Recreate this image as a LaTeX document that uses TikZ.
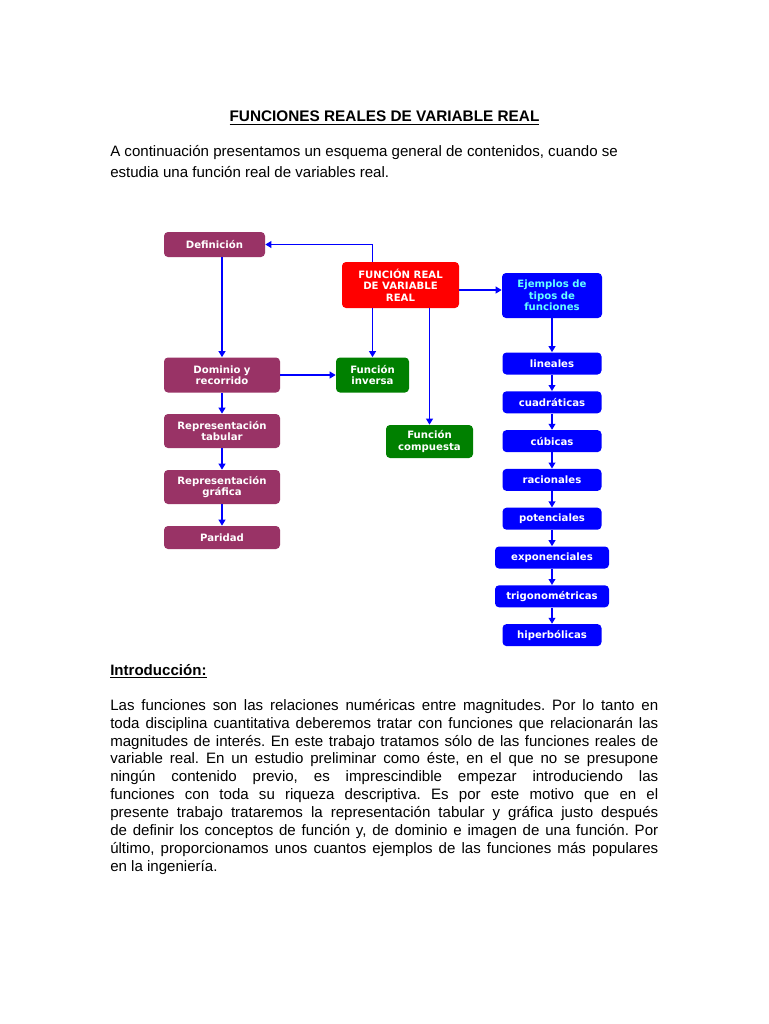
\documentclass[tikz,border=0pt]{standalone}
\usepackage{fontspec}
\setmainfont{Liberation Sans}
\newfontfamily\boxfont{DejaVu Sans}
\usepackage{tikz}
\usetikzlibrary{arrows.meta}
\definecolor{plum}{HTML}{993366}
\definecolor{fred}{HTML}{FF0000}
\definecolor{fgreen}{HTML}{008000}
\definecolor{fblue}{HTML}{0000FF}
\definecolor{fcyan}{HTML}{66FFFF}
\frenchspacing

\begin{document}
\begin{tikzpicture}[x=0.75pt,y=-0.75pt,
  box/.style={rounded corners=3pt, inner sep=0pt, align=center, text=white,
    font=\boxfont\bfseries\fontsize{7.6}{8.6}\selectfont},
  link/.style={draw=fblue, line width=1.2pt, -{Triangle[length=4.5pt,width=5pt]}}]
  \useasboundingbox[fill=white] (0,0) rectangle (768,1024);
  % text of the page
  \node[font=\bfseries\fontsize{11.5}{13}\selectfont] (title) at (384.5,118) {\underline{FUNCIONES REALES DE VARIABLE REAL}};
  \node[anchor=north west, align=left, inner sep=0pt, font=\fontsize{11.3}{15.8}\selectfont] (intro) at (110,145)
    {A continuación presentamos un esquema general de contenidos, cuando se\\estudia una función real de variables real.};
  \node[anchor=west, inner sep=0pt, font=\bfseries\fontsize{11.3}{13}\selectfont] (introd) at (110,671) {\underline{Introducción:}};
  \node[anchor=north west, text width=411pt, align=justify, inner sep=0pt, font=\fontsize{11.3}{13.4}\selectfont] (body) at (110,699)
    {Las funciones son las relaciones numéricas entre magnitudes. Por lo tanto en\linebreak
     toda disciplina cuantitativa deberemos tratar con funciones que relacionarán las\linebreak
     magnitudes de interés. En este trabajo tratamos sólo de las funciones reales de\linebreak
     variable real. En un estudio preliminar como éste, en el que no se presupone\linebreak
     ningún contenido previo, es imprescindible empezar introduciendo las\linebreak
     funciones con toda su riqueza descriptiva. Es por este motivo que en el\linebreak
     presente trabajo trataremos la representación tabular y gráfica justo después\linebreak
     de definir los conceptos de función y, de dominio e imagen de una función. Por\linebreak
     último, proporcionamos unos cuantos ejemplos de las funciones más populares\linebreak
     en la ingeniería.};
  % scheme
  \node[box, fill=plum, minimum width=75.75pt, minimum height=18.75pt] (def) at (214.5,244.5) {Definición};
  \node[box, fill=fred, minimum width=87.75pt, minimum height=34.5pt] (func) at (400.5,285) {FUNCIÓN REAL\\DE VARIABLE\\REAL};
  \node[box, fill=fblue, text=fcyan, minimum width=75pt, minimum height=33.75pt] (ej) at (552,295.5) {Ejemplos de\\tipos de\\funciones};
  \node[box, fill=plum, minimum width=87pt, minimum height=26.25pt] (dom) at (222,375) {Dominio y\\recorrido};
  \node[box, fill=fgreen, minimum width=54.75pt, minimum height=26.25pt] (inv) at (372.5,375) {Función\\inversa};
  \node[box, fill=fgreen, minimum width=65.25pt, minimum height=24.75pt] (comp) at (429.5,441.5) {Función\\compuesta};
  \node[box, fill=plum, minimum width=87pt, minimum height=25.5pt] (tab) at (222,431) {Representación\\tabular};
  \node[box, fill=plum, minimum width=87pt, minimum height=25.5pt] (graf) at (222,487) {Representación\\gráfica};
  \node[box, fill=plum, minimum width=87pt, minimum height=17.25pt] (par) at (222,537.5) {Paridad};
  \foreach \i/\name/\txt/\w in {0/lin/lineales/74.25, 1/cuad/cuadráticas/74.25, 2/cub/cúbicas/74.25,
      3/rac/racionales/74.25, 4/pot/potenciales/74.25, 5/expo/exponenciales/85.5,
      6/trig/trigonométricas/85.5, 7/hip/hiperbólicas/74.25}{
    \node[box, fill=fblue, minimum width=\w pt, minimum height=16.5pt] (\name) at (552,{363.5+38.8*\i}) {\txt};
  }
  % connectors
  \draw[link] (func.north -| inv) |- (def.east);
  \draw[link] (def.south -| dom) -- (dom);
  \draw[link] (func.south -| inv) -- (inv);
  \draw[link] (func.south -| comp) -- (comp);
  \draw[link] (dom) -- (inv);
  \draw[link] ([yshift=-3.75pt]func.east) -- ([yshift=-3.75pt]func.east -| ej.west);
  \draw[link] (ej) -- (lin);
  \foreach \a/\b in {dom/tab, tab/graf, graf/par, lin/cuad, cuad/cub, cub/rac, rac/pot, pot/expo, expo/trig, trig/hip}
    \draw[link] (\a) -- (\b);
\end{tikzpicture}
\end{document}
